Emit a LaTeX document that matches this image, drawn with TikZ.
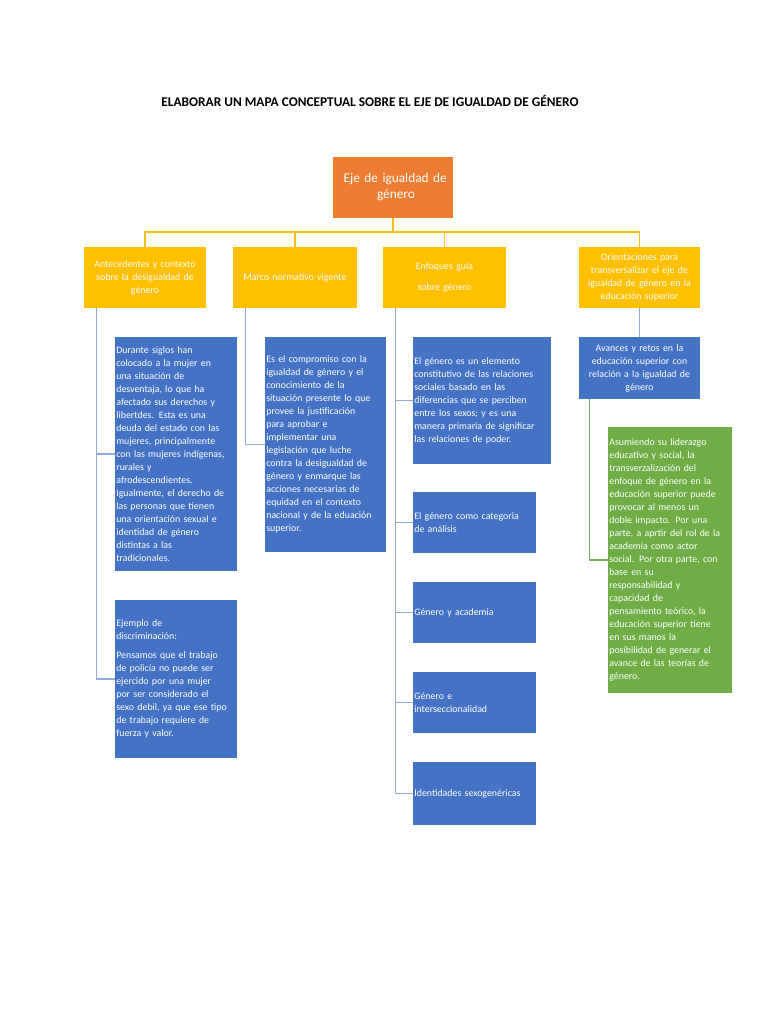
\documentclass[tikz,border=0pt]{standalone}
\usepackage{fontspec}
\setmainfont{Carlito}
\usetikzlibrary{positioning,calc}
\definecolor{rootor}{HTML}{ED7D31}
\definecolor{yel}{HTML}{FFC000}
\definecolor{blu}{HTML}{4472C4}
\definecolor{grn}{HTML}{70AD47}
\definecolor{lnk}{HTML}{8FAADC}
\tikzset{
  box/.style={inner xsep=1pt, inner ysep=0pt, text=white, font=\fontsize{7.4}{9.75}\selectfont},
  yelbox/.style={box, fill=yel, align=center},
  blubox/.style={box, fill=blu, align=left},
  grnbox/.style={box, fill=grn, align=left},
  link/.style={lnk, line width=0.9pt},
}
% box from pixel corners: name, x1, y1, x2, y2, style, text
\newcommand\bx[7]{%
  \pgfmathsetmacro\bw{(#4-#2)*0.75-2}%
  \pgfmathsetmacro\bh{(#5-#3)*0.75}%
  \node[#6, minimum width={(#4-#2)*0.75pt}, minimum height=\bh pt, text width=\bw pt] (#1) at ({(#2+#4)/2},{(#3+#5)/2}) {#7};}
\begin{document}
\begin{tikzpicture}[x=0.75pt, y=-0.75pt]
  \useasboundingbox[fill=white] (0,0) rectangle (768,1024);
  \node[font=\fontsize{10}{12}\selectfont\bfseries] (title) at (370,101) {ELABORAR UN MAPA CONCEPTUAL SOBRE EL EJE DE IGUALDAD DE GÉNERO};
  \bx{root}{333}{157}{453}{218}{box, fill=rootor, align=left, font=\fontsize{10}{12}\selectfont}{\hspace*{7pt}Eje de igualdad de\\ \hspace*{32pt}género}
  % first level
  \bx{ante}{84}{247}{206}{308}{yelbox}{Antecedentes y contexto\\sobre la desigualdad de\\género\\[8pt]}
  \bx{marco}{233}{247}{357}{308}{yelbox}{Marco normativo vigente}
  \bx{enfo}{383}{247}{506}{308}{yelbox}{Enfoques guía\\[6pt]sobre género}
  \bx{orie}{579}{247}{700}{308}{yelbox}{Orientaciones para\\transversalizar el eje de\\igualdad de género en la\\educación superior}
  \coordinate (hub) at (393,232);
  \draw[yel, line width=1.2pt] (root.south) -- (hub);
  \draw[yel, line width=1.2pt] (ante.north) |- (hub) -| (orie.north);
  \draw[yel, line width=1.2pt] (marco.north) -- (marco.north |- hub);
  \draw[yel, line width=1.2pt] (enfo.north) -- (enfo.north |- hub);
  % antecedentes
  \bx{siglos}{115}{337}{237}{571}{blubox}{Durante siglos han\\colocado a la mujer en\\una situación de\\desventaja, lo que ha\\afectado sus derechos y\\libertdes. Esta es una\\deuda del estado con las\\mujeres, principalmente\\con las mujeres indígenas,\\rurales y\\afrodescendientes.\\Igualmente, el derecho de\\las personas que tienen\\una orientación sexual e\\identidad de género\\distintas a las\\tradicionales.}
  \bx{ejem}{115}{600}{237}{758}{blubox}{Ejemplo de\\discriminación:\\[4pt]Pensamos que el trabajo\\de policía no puede ser\\ejercido por una mujer\\por ser considerado el\\sexo debil, ya que ese tipo\\de trabajo requiere de\\fuerza y valor.}
  \draw[link] ([xshift=13*0.75pt]ante.south west) |- (siglos.west);
  \draw[link] ([xshift=13*0.75pt]ante.south west) |- (ejem.west);
  % marco
  \bx{comp}{265}{337}{386}{552}{blubox}{Es el compromiso con la\\igualdad de género y el\\conocimiento de la\\situación presente lo que\\provee la justificación\\para aprobar e\\implementar una\\legislación que luche\\contra la desigualdad de\\género y enmarque las\\acciones necesarias de\\equidad en el contexto\\nacional y de la eduación\\superior.}
  \draw[link] ([xshift=13*0.75pt]marco.south west) |- (comp.west);
  % enfoques
  \bx{elem}{413}{337}{551}{464}{blubox}{El género es un elemento\\constitutivo de las relaciones\\sociales basado en las\\diferencias que se perciben\\entre los sexos; y es una\\manera primaria de significar\\las relaciones de poder.}
  \bx{cate}{413}{492}{536}{553}{blubox}{El género como categoria\\de análisis}
  \bx{acad}{413}{582}{536}{643}{blubox}{Género y academia}
  \bx{inter}{413}{672}{536}{733}{blubox}{Género e\\interseccionalidad}
  \bx{iden}{413}{762}{536}{825}{blubox}{Identidades sexogenéricas}
  \foreach \n in {elem,cate,acad,inter,iden}
    \draw[link] ([xshift=13*0.75pt]enfo.south west) |- (\n.west);
  % orientaciones
  \bx{avan}{579}{337}{700}{399}{blubox, align=center}{Avances y retos en la\\educación superior con\\relación a la igualdad de\\género}
  \draw[link] (orie.south) -- (avan.north);
  \bx{lide}{608}{427}{732}{693}{grnbox}{Asumiendo su liderazgo\\educativo y social, la\\transverzalización del\\enfoque de género en la\\educación superior puede\\provocar al menos un\\doble impacto. Por una\\parte, a aprtir del rol de la\\academia como actor\\social. Por otra parte, con\\base en su\\responsabilidad  y\\capacidad de\\pensamiento teórico, la\\educación superior tiene\\en sus manos la\\posibilidad de generar el\\avance de las teorías de\\género.}
  \draw[grn!80!lnk, line width=0.9pt] ([xshift=11*0.75pt]avan.south west) |- (lide.west);
\end{tikzpicture}
\end{document}
